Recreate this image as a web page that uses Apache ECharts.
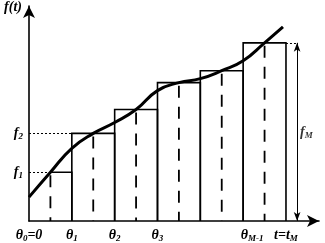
<!DOCTYPE html>
<html>
<head>
<meta charset="utf-8">
<script src="https://cdn.jsdelivr.net/npm/echarts@6/dist/echarts.min.js"></script>
<style>
  html, body { margin: 0; padding: 0; background: #fff; }
  #chart { width: 325px; height: 243px; }
</style>
</head>
<body>
<div id="chart"></div>
<script>
// bar i spans [i, i+1], height = f at the mid point
var barHeights = [49, 88, 112, 139, 151, 179];

// the smooth curve f(t)
var curveX = [0, 0.5, 1.0, 1.5, 2.0, 2.5, 3.0, 3.5, 4.0, 4.5, 5.0, 5.5, 5.93];
var curveY = [24, 49, 73, 88, 99, 112, 131, 139, 143, 151, 161, 179, 195];

// tick labels
var xTickValues = [0, 1, 2, 3, 5, 6];
var xTickLabels = ['{m|θ}{s|0}{m|=0}', '{m|θ}{s|1}', '{m|θ}{s|2}', '{m|θ}{s|3}', '{p|θ}{s|M-1}', '{m|t=t}{s|M}'];
var yTickValues = [49, 88];
var yTickLabels = ['{m|f}{s|1}', '{m|f}{s|2}'];

// f_M arrow
var fmX = 6.26;
var fmLabel = '{m|f}{s|M}';

var serif = 'Liberation Serif';
var rich = {
  m: { fontFamily: serif, fontSize: 14, fontWeight: 'bold', fontStyle: 'italic', color: '#000', lineHeight: 16 },
  p: { fontFamily: serif, fontSize: 14, fontWeight: 'bold', fontStyle: 'italic', color: '#000', lineHeight: 16, padding: [0, 0, 0, 18] },
  s: { fontFamily: serif, fontSize: 9, fontWeight: 'bold', fontStyle: 'italic', color: '#000', verticalAlign: 'bottom', lineHeight: 16 }
};

var curveData = [];
for (var i = 0; i < curveX.length; i++) curveData.push([curveX[i], curveY[i]]);

var barData = [];
for (var i = 0; i < barHeights.length; i++) barData.push([i, barHeights[i]]);

var chart = echarts.init(document.getElementById('chart'), null, { renderer: 'canvas' });

var option = {
  animation: false,
  grid: { left: 29, right: 6, top: 6, bottom: 21 },
  xAxis: {
    type: 'value',
    min: 0,
    max: 290 / 42.83,
    splitLine: { show: false },
    axisTick: { show: false },
    axisLine: { onZero: false, lineStyle: { color: '#000', width: 1.6 }, symbol: ['none', 'arrow'], symbolSize: [9, 12] },
    axisLabel: {
      customValues: xTickValues,
      margin: 6,
      formatter: function (v) {
        var k = xTickValues.indexOf(Math.round(v * 100) / 100);
        return k >= 0 ? xTickLabels[k] : '';
      },
      rich: rich
    }
  },
  yAxis: {
    type: 'value',
    min: 0,
    max: 216,
    name: 'f(t)',
    nameLocation: 'end',
    nameGap: -8,
    nameTextStyle: { fontFamily: serif, fontSize: 14, fontWeight: 'bold', fontStyle: 'italic', color: '#000', align: 'right', padding: [0, 7, 0, 0] },
    splitLine: { show: false },
    axisTick: { show: false },
    axisLine: { lineStyle: { color: '#000', width: 1.6 }, symbol: ['none', 'arrow'], symbolSize: [9, 12] },
    axisLabel: {
      customValues: yTickValues,
      margin: 6,
      formatter: function (v) {
        var k = yTickValues.indexOf(Math.round(v));
        return k >= 0 ? yTickLabels[k] : '';
      },
      rich: rich
    }
  },
  series: [
    {
      // rectangles and dashed mid lines
      type: 'custom',
      data: barData,
      renderItem: function (params, api) {
        var i = api.value(0), h = api.value(1);
        var base = api.coord([i, 0]);
        var topL = api.coord([i, h]);
        var topR = api.coord([i + 1, h]);
        var mid = api.coord([i + 0.5, h]);
        var midBase = api.coord([i + 0.5, 0]);
        var pts = i === 0
          ? [mid, topR, [topR[0], base[1]]]
          : [[base[0], base[1]], topL, topR, [topR[0], base[1]]];
        return {
          type: 'group',
          children: [
            { type: 'polyline', shape: { points: pts }, style: { stroke: '#000', lineWidth: 1.6, fill: null } },
            { type: 'line', shape: { x1: mid[0], y1: mid[1] + 3, x2: midBase[0], y2: midBase[1] },
              style: { stroke: '#000', lineWidth: 1.8, lineDash: [12, 9] } }
          ]
        };
      },
      z: 2
    },
    {
      // dotted guides and f_M arrow
      type: 'line',
      data: [],
      markLine: {
        silent: true,
        symbol: ['none', 'none'],
        label: { show: false },
        lineStyle: { color: '#000', type: [2, 2], width: 1 },
        data: [
          [{ coord: [0, yTickValues[0]] }, { coord: [0.5, yTickValues[0]] }],
          [{ coord: [0, yTickValues[1]] }, { coord: [1, yTickValues[1]] }],
          [{ coord: [barHeights.length, barHeights[barHeights.length - 1]] }, { coord: [fmX, barHeights[barHeights.length - 1]] }],
          [{ coord: [fmX, 0], symbol: 'arrow', symbolSize: [5, 9], lineStyle: { type: 'solid', width: 1 } },
           { coord: [fmX, barHeights[barHeights.length - 1]], symbol: 'arrow', symbolSize: [5, 9] }]
        ]
      },
      z: 3
    },
    {
      type: 'scatter',
      data: [[fmX, barHeights[barHeights.length - 1] / 2]],
      symbolSize: 0,
      label: { show: true, position: 'right', distance: 3, formatter: fmLabel, rich: rich },
      z: 3
    },
    {
      type: 'line',
      data: curveData,
      smooth: 0.5,
      showSymbol: false,
      lineStyle: { color: '#000', width: 3 },
      z: 5
    }
  ]
};

chart.setOption(option);
</script>
</body>
</html>
